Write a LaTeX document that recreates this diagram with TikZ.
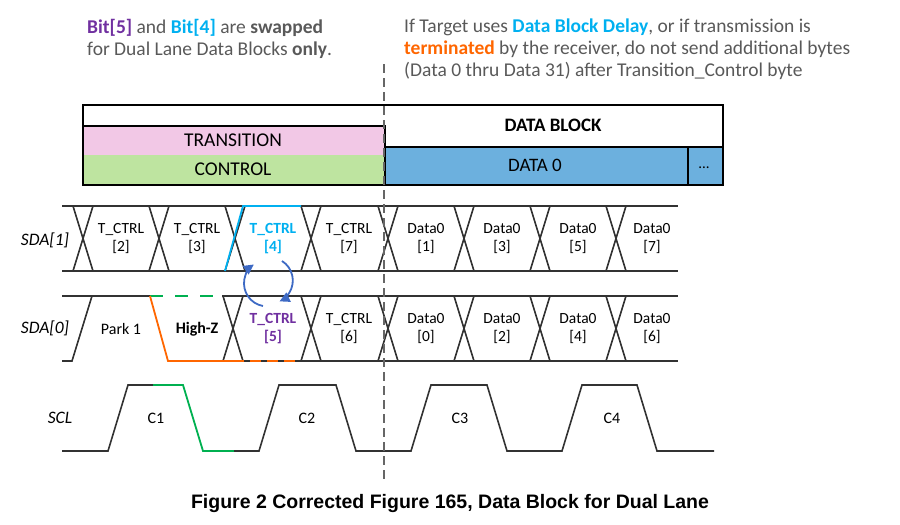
\documentclass[tikz,border=0pt]{standalone}
\usepackage{fontspec}
\setmainfont{Carlito}
\newfontfamily\capfont{Liberation Sans}
\usetikzlibrary{arrows.meta}
\definecolor{txtgray}{RGB}{89,89,89}
\definecolor{sky}{RGB}{0,176,240}
\definecolor{purp}{RGB}{112,48,160}
\definecolor{orng}{RGB}{255,102,0}
\definecolor{grn}{RGB}{0,176,80}
\definecolor{pinkf}{RGB}{242,200,230}
\definecolor{greenf}{RGB}{190,228,160}
\definecolor{bluef}{RGB}{108,176,222}
\definecolor{wire}{RGB}{50,50,50}
\begin{document}
\begin{tikzpicture}[x=1pt,y=-1pt,
  sig/.style={draw=wire,line width=1.6pt},
  lbl/.style={font=\fontsize{15.5}{18}\selectfont,align=center,text=black},
  side/.style={font=\fontsize{17.5}{20}\selectfont\itshape},
  plain/.style={font=\fontsize{16}{18}\selectfont},
  note/.style={font=\fontsize{19.5}{22}\selectfont,text=txtgray,align=left,anchor=north west,inner sep=0pt},
  box/.style={draw=black,line width=1.8pt},
  swap/.style={line width=1.8pt,-{Triangle[length=10pt,width=10pt]}}]
\useasboundingbox (0,0) rectangle (900,525);
% notes
\node[note] (n1) at (87,19) {\textbf{\color{purp}Bit[5]} and \textbf{\color{sky}Bit[4]} are \textbf{swapped}\\for Dual Lane Data Blocks \textbf{only}.};
\node[note] (n2) at (404,19) {If Target uses \textbf{\color{sky}Data Block Delay}, or if transmission is\\\textbf{\color{orng}terminated} by the receiver, do not send additional bytes\\(Data 0 thru Data 31) after Transition\_Control byte};
% boxes
\node[box,minimum width=640pt,minimum height=80pt,anchor=north west,inner sep=0pt] (blk) at (82,104) {};
\node[font=\fontsize{19}{20}\selectfont\bfseries] (blkl) at (553,125) {DATA BLOCK};
\fill[pinkf] (82,125) rectangle (384,155);
\fill[greenf] (82,155) rectangle (384,184);
\node[box,minimum width=302pt,minimum height=59pt,anchor=north west,inner sep=0pt] (tc) at (82,125) {};
\node[font=\fontsize{19.5}{20}\selectfont] (tcl1) at (233,140) {TRANSITION};
\node[font=\fontsize{19.5}{20}\selectfont] (tcl2) at (233,169) {CONTROL};
\node[box,fill=bluef,minimum width=303pt,minimum height=38pt,anchor=north west,inner sep=0pt] (d0) at (384,146) {};
\node[font=\fontsize{19}{20}\selectfont] (d0l) at (535,165) {DATA 0};
\node[box,fill=bluef,minimum width=35pt,minimum height=38pt,anchor=north west,inner sep=0pt] (dots) at (687,146) {};
\node[font=\fontsize{15}{16}\selectfont] (dotsl) at (704,168) {...};
% SDA[1]
\node[side] (s1) at (45,240) {SDA[1]};
\draw[sig] (62,206) -- (678,206) (62,271) -- (678,271);
\foreach \a in {73,149,225,301,378,454,530,606}
  \draw[sig] (\a,206) -- (\a+20,271) (\a,271) -- (\a+20,206);
\draw[sky,line width=1.8pt] (225,271) -- (243,206) -- (301,206);
\foreach \x/\t in {121/T\_CTRL\\{[2]},197/T\_CTRL\\{[3]},349/T\_CTRL\\{[7]},426/Data0\\{[1]},502/Data0\\{[3]},578/Data0\\{[5]},652/Data0\\{[7]}}
  \node[lbl] at (\x,239) {\t};
\node[lbl,text=sky,font=\fontsize{15.5}{18}\selectfont\bfseries] (b4) at (273,239) {T\_CTRL\\{[4]}};
% SDA[0]
\node[side] (s0) at (45,328) {SDA[0]};
\draw[sig] (62,296) -- (678,296);
\draw[sig] (62,361) -- (72,361) -- (92,296);
\draw[sig] (168,361) -- (678,361);
\foreach \a in {223,301,378,454,530,606}
  \draw[sig] (\a,296) -- (\a+20,361) (\a,361) -- (\a+20,296);
\draw[white,line width=2.4pt] (150,296) -- (222,296);
\draw[grn,line width=1.8pt,dash pattern=on 13pt off 12pt] (150,296) -- (222,296);
\draw[orng,line width=1.8pt] (150,296) -- (168,361) -- (233,361);
\draw[orng,line width=1.8pt,dash pattern=on 11pt off 6pt] (233,361) -- (301,361);
\node[plain] (p1) at (121,329) {Park 1};
\node[plain,font=\fontsize{16}{18}\selectfont\bfseries] (hz) at (197,329) {High-Z};
\node[lbl,text=purp,font=\fontsize{15.5}{18}\selectfont\bfseries] (b5) at (273,329) {T\_CTRL\\{[5]}};
\foreach \x/\t in {349/T\_CTRL\\{[6]},426/Data0\\{[0]},502/Data0\\{[2]},578/Data0\\{[4]},652/Data0\\{[6]}}
  \node[lbl] at (\x,329) {\t};
% swap arrows
\draw[swap,purp!55!sky] (263,306) arc[start angle=260,end angle=125,radius=23pt];
\draw[swap,sky!45!purp] (282,261) arc[start angle=58,end angle=-65,radius=23pt];
% SCL
\node[side] (scl) at (60,418) {SCL};
\draw[sig] (62,451) -- (108,451) -- (128,385) -- (153,385);
\draw[grn,line width=1.8pt] (153,385) -- (183,385) -- (203,451) -- (234,451);
\draw[sig] (234,451) -- (259,451) -- (279,385) -- (336,385) -- (356,451) -- (411,451) -- (431,385) -- (487,385) -- (507,451) -- (562,451) -- (582,385) -- (637,385) -- (657,451) -- (714,451);
\node[plain] (c1) at (156,418) {C1};
\node[plain] (c2) at (307,418) {C2};
\node[plain] (c3) at (460,418) {C3};
\node[plain] (c4) at (612,418) {C4};
% dashed divider
\coordinate (dt) at (384,64);
\coordinate (db) at (384,480);
\draw[gray!80!black,line width=2pt,dash pattern=on 9pt off 5pt] (dt) -- (db);
% caption
\node[font=\capfont\fontsize{19.5}{22}\selectfont\bfseries] (cap) at (450,503) {Figure 2 Corrected Figure 165, Data Block for Dual Lane};
\end{tikzpicture}
\end{document}
